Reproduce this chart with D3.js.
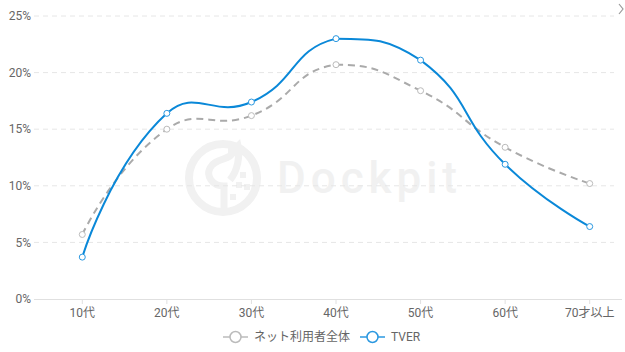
<!DOCTYPE html>
<html>
<head>
<meta charset="utf-8">
<script src="https://cdn.jsdelivr.net/npm/d3@7"></script>
<style>
  body { margin: 0; background: #fff; }
  svg { font-family: Roboto, "Noto Sans CJK JP", sans-serif; }
</style>
</head>
<body>
<div id="chart"></div>
<script>
const categories = ["10代", "20代", "30代", "40代", "50代", "60代", "70才以上"];
const netUsers = [5.7, 15.0, 16.2, 20.7, 18.4, 13.4, 10.2];
const tver = [3.7, 16.4, 17.4, 23.0, 21.1, 11.9, 6.4];
const yTicks = [0, 5, 10, 15, 20, 25];
const seriesNames = ["ネット利用者全体", "TVER"];

const width = 625;
const height = 352;
const margin = {top: 16, right: -7, bottom: 53, left: 40};

const svg = d3.select("#chart").append("svg")
  .attr("width", width)
  .attr("height", height);

const x = d3.scaleBand()
  .domain(categories)
  .range([margin.left, width - margin.right]);

const y = d3.scaleLinear()
  .domain([0, 25])
  .range([height - margin.bottom, margin.top]);

// watermark
const wmColor = "#f1f1f1";
const wm = svg.append("g").attr("fill", "none").attr("stroke", wmColor);
wm.append("circle").attr("cx", 223).attr("cy", 178).attr("r", 34).attr("stroke-width", 8);
wm.append("path")
  .attr("d", "M224,210 L224,186 C212,186 206,176 210,168 C214,160 224,160 230,156 C234,152 236,148 238,146 C240,156 238,170 230,180")
  .attr("stroke-width", 7);
const sq = svg.append("g").attr("fill", wmColor);
[[228,148],[240,172],[236,182],[244,184],[230,194]].forEach(p =>
  sq.append("rect").attr("x", p[0]).attr("y", p[1]).attr("width", 6).attr("height", 6));
svg.append("text")
  .attr("x", 277).attr("y", 193)
  .attr("font-size", 44).attr("font-weight", 500)
  .attr("textLength", 180)
  .attr("fill", wmColor)
  .text("Dockpit");

// grid
svg.append("g")
  .selectAll("line")
  .data(yTicks.filter(d => d > 0))
  .join("line")
    .attr("x1", 34).attr("x2", 614)
    .attr("y1", d => y(d)).attr("y2", d => y(d))
    .attr("stroke", "#e6e6e6")
    .attr("stroke-dasharray", "5,4");

// y labels
svg.append("g")
  .selectAll("text")
  .data(yTicks)
  .join("text")
    .attr("x", 31)
    .attr("y", d => y(d))
    .attr("dy", "0.35em")
    .attr("text-anchor", "end")
    .attr("font-size", 12)
    .attr("fill", "#666")
    .text(d => d + "%");

// x axis
const xAxis = svg.append("g")
  .attr("transform", `translate(0,${y(0)})`)
  .call(d3.axisBottom(x).tickSize(5).tickPadding(4).tickSizeOuter(0));
xAxis.select(".domain").attr("stroke", "#e0e0e0").attr("d", `M34,0.5H622`);
xAxis.selectAll(".tick line").attr("stroke", "#e0e0e0");
xAxis.selectAll(".tick text").attr("font-size", 12).attr("fill", "#666")
  .attr("font-family", 'Roboto, "Noto Sans CJK JP", sans-serif');

// right-edge arrow
svg.append("path")
  .attr("d", "M619,4 L623,9 L619,14")
  .attr("fill", "none").attr("stroke", "#999").attr("stroke-width", 1.2);

// smooth path, control points kept inside the bounding box of the points
function smoothPath(pts, smooth = 0.5) {
  const p = d3.path();
  const minX = d3.min(pts, d => d[0]), maxX = d3.max(pts, d => d[0]);
  const minY = d3.min(pts, d => d[1]), maxY = d3.max(pts, d => d[1]);
  const clamp = ([a, b]) => [Math.max(minX, Math.min(maxX, a)), Math.max(minY, Math.min(maxY, b))];
  let cp0 = pts[0];
  p.moveTo(...pts[0]);
  for (let i = 1; i < pts.length; i++) {
    const [px, py] = pts[i];
    const [qx, qy] = pts[i - 1];
    let cp1 = [px, py], next = [px, py];
    if (i < pts.length - 1) {
      const [nx, ny] = pts[i + 1];
      const vx = nx - qx, vy = ny - qy;
      const lp = Math.hypot(px - qx, py - qy);
      const ln = Math.hypot(nx - px, ny - py);
      const r = ln / (ln + lp);
      cp1 = [px - vx * smooth * (1 - r), py - vy * smooth * (1 - r)];
      next = [px + vx * smooth * r, py + vy * smooth * r];
    }
    const a = clamp(cp0), b = clamp(cp1);
    p.bezierCurveTo(a[0], a[1], b[0], b[1], px, py);
    cp0 = next;
  }
  return p.toString();
}

const cx = i => x(categories[i]) + x.bandwidth() / 2;

const series = [
  {name: seriesNames[0], values: netUsers, color: "#aaaaaa", marker: "#bbbbbb", dash: "7,5"},
  {name: seriesNames[1], values: tver, color: "#0a88d8", marker: "#2b98e0", dash: null}
];

series.forEach(s => {
  svg.append("path")
    .attr("d", smoothPath(s.values.map((d, i) => [cx(i), y(d)])))
    .attr("fill", "none")
    .attr("stroke", s.color)
    .attr("stroke-width", 2)
    .attr("stroke-dasharray", s.dash);
  svg.append("g")
    .selectAll("circle")
    .data(s.values)
    .join("circle")
      .attr("cx", (d, i) => cx(i))
      .attr("cy", d => y(d))
      .attr("r", 3)
      .attr("fill", "#fff")
      .attr("stroke", s.marker)
      .attr("stroke-width", 1);
});

// legend
const legend = svg.append("g").attr("transform", "translate(0,337)");
const legendX = [223, 360];
series.forEach((s, i) => {
  const g = legend.append("g").attr("transform", `translate(${legendX[i]},0)`);
  g.append("line").attr("x1", 0).attr("x2", 25).attr("stroke", s.marker).attr("stroke-width", 1.5);
  g.append("circle").attr("cx", 12.5).attr("r", 5.5).attr("fill", "#fff")
    .attr("stroke", s.marker).attr("stroke-width", 1.5);
  g.append("text").attr("x", 31).attr("dy", "0.35em")
    .attr("font-size", 12).attr("fill", "#666").text(s.name);
});
</script>
</body>
</html>
